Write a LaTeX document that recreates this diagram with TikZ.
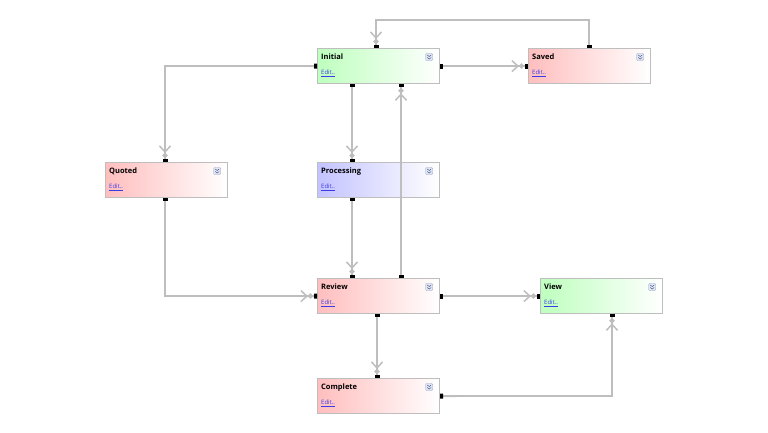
\documentclass[tikz,border=0pt]{standalone}
\usepackage{fontspec}
\setmainfont{Open Sans}
\usetikzlibrary{arrows.meta}
\definecolor{lg}{RGB}{190,190,190}
\definecolor{lk}{RGB}{60,60,230}
\definecolor{cred}{RGB}{255,190,190}
\definecolor{cgrn}{RGB}{190,255,190}
\definecolor{cblu}{RGB}{195,195,255}
\definecolor{icb}{RGB}{150,160,190}
\definecolor{icf}{RGB}{225,232,245}
\definecolor{icd}{RGB}{80,90,140}
\tikzset{
  st/.style={draw=lg,line width=1.2pt,minimum width=122pt,minimum height=35pt,inner sep=0pt,shading=axis,shading angle=90,right color=white},
  red/.style={st,left color=cred},
  grn/.style={st,left color=cgrn},
  blu/.style={st,left color=cblu},
  conn/.style={draw=lg,line width=1.8pt,
    {Square[black,length=3pt,width=5pt]}-{Straight Barb[lg,length=6pt,width=11pt,line width=1.5pt] Circle[lg,length=5pt,width=5pt,sep=1pt] Square[black,length=3pt,width=5pt]}}
}
\newcommand{\stnode}[4]{%
  \node[#2,anchor=north west] (#1) at (#3) {};
  \node[anchor=north west,font=\bfseries\fontsize{7.5}{8}\selectfont,inner sep=0pt] (#1t) at ([xshift=4pt,yshift=-6pt]#1.north west) {#4};
  \node[anchor=north west,font=\fontsize{6}{7}\selectfont,text=lk,inner sep=0pt] (#1e) at ([xshift=4pt,yshift=-22pt]#1.north west) {\underline{Edit..}};
  \node[draw=icb,fill=icf,rounded corners=1pt,minimum size=7pt,inner sep=0pt] (#1i) at ([xshift=-11pt,yshift=-9pt]#1.north east) {};
  \draw[icd,line width=0.5pt] ([xshift=-2pt,yshift=2pt]#1i.center)--([yshift=0.5pt]#1i.center)--([xshift=2pt,yshift=2pt]#1i.center)
   ([xshift=-2pt,yshift=-0.5pt]#1i.center)--([yshift=-2pt]#1i.center)--([xshift=2pt,yshift=-0.5pt]#1i.center);
}
\begin{document}
\begin{tikzpicture}[x=1pt,y=-1pt]
\useasboundingbox (0,0) rectangle (768,432);
\stnode{ini}{grn}{317,48}{Initial}
\stnode{sav}{red}{528,48}{Saved}
\stnode{quo}{red}{105,162}{Quoted}
\stnode{pro}{blu}{317,162}{Processing}
\stnode{rev}{red}{317,278}{Review}
\stnode{vie}{grn}{540,278}{View}
\stnode{com}{red}{317,378}{Complete}
\draw[conn] (sav.north -| 589,0) -- (589,20) -- (376,20) -- (ini.north -| 376,0);
\draw[conn] (ini.east) -- (sav.west);
\draw[conn] (ini.west) -- (165,66) -- (quo.north -| 165,0);
\draw[conn] (ini.south -| 352,0) -- (pro.north -| 352,0);
\draw[conn] (rev.north -| 401,0) -- (ini.south -| 401,0);
\draw[conn] (pro.south -| 352,0) -- (rev.north -| 352,0);
\draw[conn] (quo.south -| 165,0) -- (165,296) -- (rev.west);
\draw[conn] (rev.east) -- (vie.west);
\draw[conn] (rev.south -| 377,0) -- (com.north -| 377,0);
\draw[conn] (com.east) -- (612,396) -- (vie.south -| 612,0);
\end{tikzpicture}
\end{document}
